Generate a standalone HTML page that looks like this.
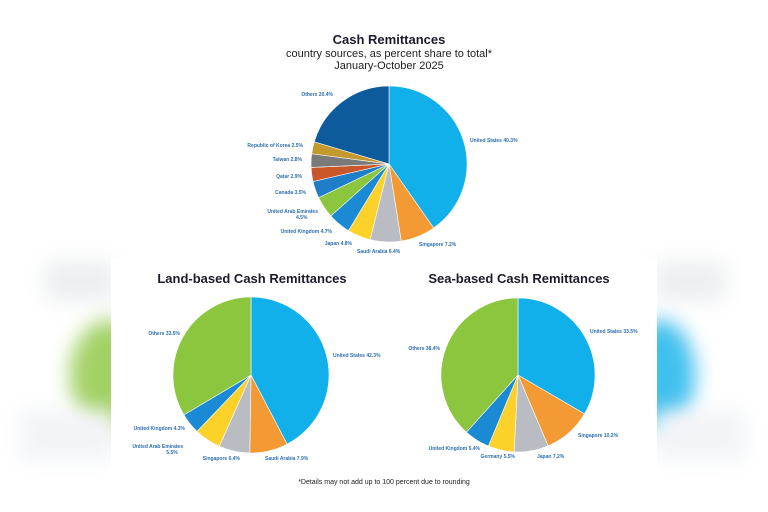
<!DOCTYPE html>
<html><head><meta charset="utf-8"><style>
html,body{margin:0;padding:0;background:#fff;width:768px;height:512px;overflow:hidden;position:relative;font-family:"Liberation Sans",sans-serif}
.blur{position:absolute;filter:blur(10px)}
#panel{position:absolute;left:111px;top:258px;width:546px;height:234px;background:#fff}
svg{position:absolute;left:0;top:0}
text{font-family:"Liberation Sans",sans-serif}
.l{font-size:5px;fill:#2e6fb0;font-weight:bold}
</style></head><body>
<div class="blur" style="left:45px;top:262px;width:70px;height:38px;background:#eceef0"></div>
<div class="blur" style="left:655px;top:262px;width:70px;height:38px;background:#eceef0"></div>
<div class="blur" style="left:70px;top:320px;width:80px;height:110px;border-radius:50%;background:#8cc63f;opacity:.8"></div>
<div class="blur" style="left:625px;top:320px;width:70px;height:110px;border-radius:50%;background:#12b0ea;opacity:.8"></div>
<div class="blur" style="left:20px;top:410px;width:95px;height:50px;background:#f2f4f7"></div>
<div class="blur" style="left:655px;top:410px;width:90px;height:50px;background:#f2f4f7"></div>
<div id="panel"></div>
<svg id="s" width="768" height="512" viewBox="0 0 768 512">
<text x="389" y="44" text-anchor="middle" font-size="13" font-weight="bold" fill="#1b1b2b">Cash Remittances</text>
<text x="389" y="57" text-anchor="middle" font-size="11" fill="#222">country sources, as percent share to total*</text>
<text x="389" y="69" text-anchor="middle" font-size="11" fill="#222">January-October 2025</text>
<text x="252" y="283" text-anchor="middle" font-size="13" font-weight="bold" fill="#1b1b2b">Land-based Cash Remittances</text>
<text x="519" y="283" text-anchor="middle" font-size="13" font-weight="bold" fill="#1b1b2b">Sea-based Cash Remittances</text>
<text x="384" y="484" text-anchor="middle" font-size="7" fill="#222">*Details may not add up to 100 percent due to rounding</text>
<g id="g"></g>
<text class="l" x="470" y="142">United States 40.3%</text>
<text class="l" x="419" y="246">Singapore 7.2%</text>
<text class="l" x="357" y="253">Saudi Arabia 6.4%</text>
<text class="l" x="352" y="245" text-anchor="end">Japan 4.8%</text>
<text class="l" x="332" y="233" text-anchor="end">United Kingdom 4.7%</text>
<text class="l" x="318" y="213" text-anchor="end">United Arab Emirates</text>
<text class="l" x="296" y="219">4.5%</text>
<text class="l" x="306" y="194" text-anchor="end">Canada 3.5%</text>
<text class="l" x="302" y="178" text-anchor="end">Qatar 2.9%</text>
<text class="l" x="302" y="161" text-anchor="end">Taiwan 2.8%</text>
<text class="l" x="303" y="147" text-anchor="end">Republic of Korea 2.5%</text>
<text class="l" x="333" y="96" text-anchor="end">Others 20.4%</text>
<text class="l" x="333" y="357">United States 42.3%</text>
<text class="l" x="265" y="460">Saudi Arabia 7.9%</text>
<text class="l" x="240" y="460" text-anchor="end">Singapore 6.4%</text>
<text class="l" x="183" y="448" text-anchor="end">United Arab Emirates</text>
<text class="l" x="172" y="454" text-anchor="middle">5.5%</text>
<text class="l" x="185" y="430" text-anchor="end">United Kingdom 4.3%</text>
<text class="l" x="180" y="335" text-anchor="end">Others 33.5%</text>
<text class="l" x="590" y="333">United States 33.5%</text>
<text class="l" x="578" y="437">Singapore 10.2%</text>
<text class="l" x="537" y="458">Japan 7.2%</text>
<text class="l" x="515" y="458" text-anchor="end">Germany 5.5%</text>
<text class="l" x="480" y="450" text-anchor="end">United Kingdom 5.4%</text>
<text class="l" x="440" y="350" text-anchor="end">Others 38.4%</text>
</svg>
<script>
function pie(cx,cy,r,data){
 var g=document.getElementById('g'),a=0,tot=0;data.forEach(d=>tot+=d[0]);
 data.forEach(d=>{
  var a1=a+d[0]/tot*2*Math.PI;
  var x0=cx+r*Math.sin(a),y0=cy-r*Math.cos(a),x1=cx+r*Math.sin(a1),y1=cy-r*Math.cos(a1);
  var p=document.createElementNS('http://www.w3.org/2000/svg','path');
  p.setAttribute('d','M'+cx+','+cy+'L'+x0+','+y0+'A'+r+','+r+' 0 '+((a1-a)>Math.PI?1:0)+' 1 '+x1+','+y1+'Z');
  p.setAttribute('fill',d[1]);p.setAttribute('stroke','#fff');p.setAttribute('stroke-width','0.6');
  g.appendChild(p);a=a1;});
}
var LB='#12b0ea',OR='#f39a35',GR='#b9bcc2',YE='#fcd12a',BL='#1a8ad4',GN='#8cc63f';
pie(389,164,78,[[40.3,LB],[7.2,OR],[6.4,GR],[4.8,YE],[4.7,BL],[4.5,GN],[3.5,'#1e7fc8'],[2.9,'#c9572a'],[2.8,'#7a7a7a'],[2.5,'#c49a2e'],[20.4,'#0d5b9c']]);
pie(251,375,78,[[42.3,LB],[7.9,OR],[6.4,GR],[5.5,YE],[4.3,BL],[33.5,GN]]);
pie(518,375,77,[[33.5,LB],[10.2,OR],[7.2,GR],[5.5,YE],[5.4,BL],[38.4,GN]]);
</script>
</body></html>
